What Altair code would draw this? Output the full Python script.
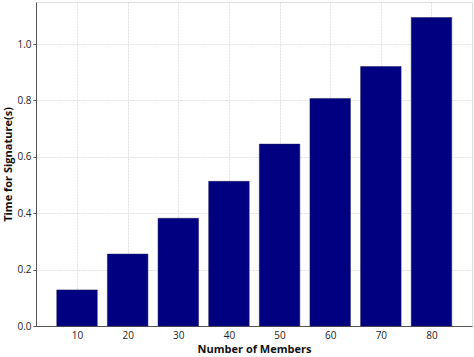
import altair as alt
import pandas as pd

members = [10, 20, 30, 40, 50, 60, 70, 80]
times = [0.128, 0.255, 0.382, 0.513, 0.645, 0.807, 0.920, 1.094]

df = pd.DataFrame({"members": members, "time": times})

font = "Open Sans"

chart = alt.Chart(df).transform_calculate(
    x0="datum.members - 4", x1="datum.members + 4"
).mark_bar(color="#000080", stroke="#1a1a5a", strokeWidth=0.5).encode(
    x=alt.X("x0:Q", scale=alt.Scale(domain=[1.9, 88.0], nice=False, zero=False),
            axis=alt.Axis(values=members, title="Number of Members", format="d",
                          titleFontWeight="bold", titleFontSize=11, titlePadding=3,
                          labelFontSize=10, tickSize=0, labelPadding=4,
                          gridColor="#e0e0e0", gridDash=[2, 1], domainColor="#555",
                          labelColor="#222", titleColor="#111")),
    x2="x1:Q",
    y=alt.Y("time:Q", scale=alt.Scale(domain=[0, 1.149], nice=False),
            axis=alt.Axis(values=[0, 0.2, 0.4, 0.6, 0.8, 1.0], format=".1f",
                          title="Time for Signature(s)", titleFontWeight="bold",
                          titleFontSize=11, titlePadding=3, labelFontSize=10,
                          tickSize=3, tickColor="#555", labelPadding=2,
                          gridColor="#e0e0e0", gridDash=[2, 1], domainColor="#555",
                          labelColor="#222", titleColor="#111")),
    y2=alt.Y2(datum=0),
).properties(
    width=436, height=324,
    padding={"left": 36, "top": 2, "right": 2, "bottom": 31},
    autosize=alt.AutoSizeParams(type="none"),
).configure_view(stroke="#999", strokeWidth=2).configure(font=font)

chart.save("out.html", embed_options={"renderer": "svg", "actions": False})
